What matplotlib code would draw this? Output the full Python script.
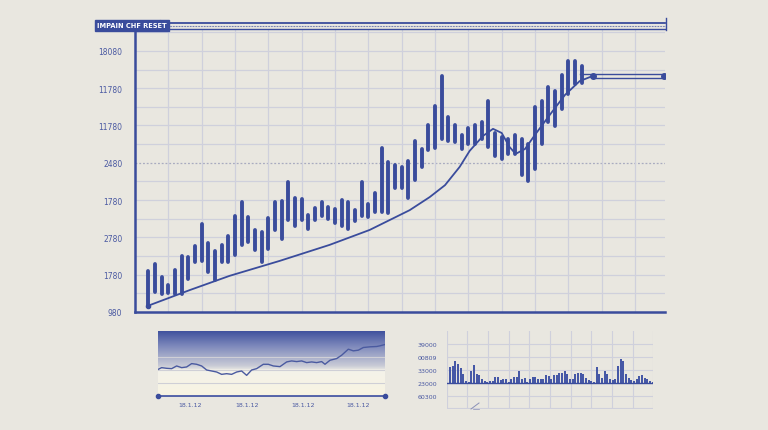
import numpy as np
import matplotlib
matplotlib.use("Agg")
import matplotlib.pyplot as plt
from matplotlib.lines import Line2D

# ---- data ----
bar_low = [0.17, 0.54, 0.48, 0.51, 0.48, 0.48, 0.88, 1.34, 1.38, 1.07,
           0.86, 1.34, 1.34, 1.53, 1.80, 1.88, 1.67, 1.35, 1.69, 2.21,
           1.96, 2.47, 2.31, 2.47, 2.23, 2.47, 2.57, 2.49, 2.39, 2.30,
           2.23, 2.45, 2.58, 2.54, 2.67, 2.69, 2.65, 3.32, 3.32, 3.05,
           3.55, 3.88, 4.35, 4.39, 4.64, 4.59, 4.55, 4.37, 4.50, 4.50,
           4.64, 4.42, 4.19, 4.10, 4.24, 4.24, 3.67, 3.52, 3.83, 4.50,
           5.09, 4.99, 5.44, 5.84, 6.11, 6.14]
bar_high = [1.11, 1.29, 0.95, 0.72, 1.13, 1.51, 1.47, 1.78, 2.36, 1.85,
            1.64, 1.80, 2.04, 2.58, 2.95, 2.55, 2.20, 2.14, 2.52, 2.96,
            2.98, 3.49, 3.05, 3.03, 2.60, 2.80, 2.96, 2.81, 2.76, 3.01,
            2.96, 2.74, 3.49, 2.90, 3.19, 4.39, 4.01, 3.94, 3.88, 4.05,
            4.59, 4.37, 5.01, 5.53, 6.34, 5.22, 5.01, 4.75, 4.92, 5.01,
            5.10, 5.66, 4.80, 4.68, 4.64, 4.75, 4.64, 4.50, 5.49, 5.66,
            6.02, 5.93, 6.35, 6.74, 6.74, 6.60]

trend_x = [0, 6.25, 12.2, 19.7, 27.2, 33.2, 39.2, 42.2, 44.5, 46.7, 48.2,
           50.2, 51.7, 53.0, 54.2, 55.1, 56.5, 58.0, 60.2, 62.5, 64.7, 66.7]
trend_y = [0.17, 0.59, 0.97, 1.37, 1.80, 2.20, 2.73, 3.08, 3.40, 3.89, 4.32,
           4.72, 4.91, 4.80, 4.42, 4.24, 4.37, 4.75, 5.28, 5.82, 6.19, 6.33]
flat_hi = 6.38
flat_lo = 6.27

y_labels = ['980', '1780', '2780', '1780', '2480', '11780', '11780', '18080']
title = 'IMPAIN CHF RESET'

# small line inset
mini_y = [7.8, 8.3, 8.1, 8.0, 8.8, 8.3, 8.5, 9.5, 9.3, 8.8, 7.6, 7.3, 7.0,
          6.3, 6.5, 6.3, 7.0, 7.3, 6.0, 7.6, 8.0, 9.3, 9.3, 8.8, 8.6, 10.0,
          10.3, 10.1, 10.3, 9.8, 10.0, 9.8, 10.1, 9.3, 10.5, 11.0, 12.0, 13.8,
          13.3, 13.5, 14.3, 14.5, 14.6, 14.8, 15.2]
mini_x = [0, 1, 2.5, 4, 5.5, 7, 8.5, 10, 11.5, 13, 14.5, 16, 17.5, 19, 20.5,
          22, 23.5, 25, 26.5, 28, 29.5, 31.5, 33, 34.5, 36.5, 38.5, 40, 41.5,
          43, 44.5, 46, 47.5, 49, 50, 51.5, 53.5, 55, 57, 58.5, 60, 61.5,
          63.5, 65.5, 66.5, 68]
mini_labels = ['18.1.12', '18.1.12', '18.1.12', '18.1.12']

# small bar inset
vol = [1.26, 1.32, 1.66, 1.45, 1.18, 0.66, 0.13, 0.05, 0.92, 1.37, 0.71,
       0.60, 0.32, 0.13, 0.05, 0.13, 0.13, 0.47, 0.47, 0.21, 0.26, 0.26,
       0.05, 0.26, 0.47, 0.47, 0.92, 0.32, 0.37, 0.05, 0.26, 0.47, 0.42,
       0.26, 0.26, 0.26, 0.63, 0.53, 0.26, 0.63, 0.58, 0.74, 0.79, 0.92,
       0.68, 0.26, 0.32, 0.66, 0.79, 0.76, 0.68, 0.40, 0.21, 0.13, 0.05,
       1.24, 0.66, 0.40, 0.92, 0.66, 0.26, 0.20, 0.30, 1.32, 1.84, 1.66,
       0.71, 0.40, 0.20, 0.13, 0.26, 0.55, 0.58, 0.40, 0.26, 0.13, 0.05]
vol_labels = ['60300', '23000', '33000', '00809', '39000']

BG = '#e9e7e0'
BLUE = '#3a4c9c'
TXT = '#4b5aa2'
GRID = '#cfd0dc'

fig = plt.figure(figsize=(7.68, 4.31), dpi=100)
fig.patch.set_facecolor(BG)
W, H = 768, 431


def px_ax(x0, y0, x1, y1):
    return fig.add_axes([x0 / W, 1 - y1 / H, (x1 - x0) / W, (y1 - y0) / H])


def px_line(xs, ys, **kw):
    fig.add_artist(Line2D([x / W for x in xs], [1 - y / H for y in ys], **kw))


# ---- main chart ----
ax = px_ax(135, 29.5, 665, 313)
ax.set_facecolor(BG)
ax.set_xlim(-2, 77.5)
ax.set_ylim(0, 7.6)
for v in np.arange(0.5, 7.6, 0.5):
    if v == 4:
        ax.axhline(v, color='#a9abc0', lw=0.9, ls=(0, (1.5, 1.5)), zorder=1)
    else:
        ax.axhline(v, color=GRID, lw=0.9, zorder=1)
for xv in np.arange(3, 77, 5):
    ax.axvline(xv, color=GRID, lw=0.9, zorder=1)

xs = np.arange(len(bar_low))
ax.vlines(xs, bar_low, bar_high, color=BLUE, lw=2.8, capstyle='round', zorder=3)
ax.plot(trend_x, trend_y, color=BLUE, lw=1.3, zorder=4)
ax.plot([64.7, 77.4], [flat_hi, flat_hi], color=BLUE, lw=1.0, zorder=4)
ax.plot([66.7, 77.4], [flat_lo, flat_lo], color=BLUE, lw=1.0, zorder=4)
ax.plot([66.7, 77.4], [trend_y[-1], trend_y[-1]], 'o', color=BLUE, ms=4, zorder=5)
ax.plot([trend_x[0]], [trend_y[0]], 'o', color=BLUE, ms=3, zorder=5)

ax.set_yticks(range(8))
ax.set_yticklabels(y_labels)
ax.set_xticks([])
ax.tick_params(axis='y', length=0, pad=9, labelsize=5.5, labelcolor=TXT)
for s in ['top', 'right']:
    ax.spines[s].set_visible(False)
for s in ['left', 'bottom']:
    ax.spines[s].set_color(BLUE)
    ax.spines[s].set_linewidth(1.8)

# title box and top stripe
fig.text(97 / W, 1 - 26.5 / H, title, fontsize=4.8, color='white',
         fontweight='bold', va='center', ha='left',
         bbox=dict(boxstyle='square,pad=0.35', fc=BLUE, ec=BLUE))
px_line([160, 665], [24, 24], color=BLUE, lw=1.3)
px_line([160, 665], [30, 30], color=BLUE, lw=1.0)
px_line([160, 665], [27, 27], color=BLUE, lw=0.8, ls=(0, (0.6, 0.8)))
px_line([666, 666], [19, 31], color=BLUE, lw=1.0)
px_line([160, 160], [21, 31], color=BLUE, lw=0.8)

# ---- left inset (line with gradient) ----
ai = px_ax(158.3, 331.7, 385, 396.5)
ai.set_xlim(0, 68)
ai.set_ylim(0, 19.3)
stops = [0.0, 0.25, 0.55, 0.6, 0.61, 1.0]
cols = np.array([[0x3c, 0x4e, 0x9c], [0x7f, 0x8a, 0xbc], [0xc9, 0xcb, 0xd6],
                 [0xe2, 0xe1, 0xe0], [0xf4, 0xf2, 0xea], [0xf8, 0xf4, 0xe2]]) / 255
tt = np.linspace(0, 1, 200)
grad = np.stack([np.interp(tt, stops, cols[:, k]) for k in range(3)], axis=-1)[:, None, :]
ai.imshow(grad, extent=[0, 68, 0, 19.3], aspect='auto', zorder=0)
for v in [3.8, 7.6, 11.6]:
    ai.axhline(v, color='#cfcfd6', lw=0.8, zorder=1)
ai.plot(mini_x, mini_y, color='#4a5aa0', lw=1.0, zorder=3)
ai.set_xticks([9.5, 26.5, 43.3, 60])
ai.set_xticklabels(mini_labels)
ai.set_yticks([])
ai.tick_params(axis='x', length=0, pad=5, labelsize=4.5, labelcolor=TXT)
for s in ['top', 'right', 'left']:
    ai.spines[s].set_visible(False)
ai.spines['bottom'].set_color(BLUE)
ai.spines['bottom'].set_linewidth(1.2)
ai.plot([0, 68], [0, 0], 'o', color=BLUE, ms=3, clip_on=False, zorder=5)

# ---- right inset (bars) ----
ab = px_ax(446.7, 331.7, 653.3, 410)
ab.set_facecolor(BG)
ab.set_xlim(-1.24, 76.2)
ab.set_ylim(-2.05, 4.05)
for xv in np.linspace(-1.24, 76.2, 11):
    ab.axvline(xv, color=GRID, lw=0.8, zorder=1)
for v in [-2, -1, 1, 2, 3]:
    ab.axhline(v, color=GRID, lw=0.8, zorder=1)
ab.bar(np.arange(len(vol)), vol, width=0.75, color='#4658a6', zorder=3)
ab.axhline(0, color=BLUE, lw=1.0, zorder=4)
ab.set_yticks([-1, 0, 1, 2, 3])
ab.set_yticklabels(vol_labels)
ab.set_xticks([])
ab.tick_params(axis='y', length=0, pad=7, labelsize=4.5, labelcolor=TXT)
for s in ab.spines.values():
    s.set_visible(False)
# small scribble under the bar inset
px_line([471, 479], [410, 404], color='#8a90b8', lw=0.7)
px_line([473, 479], [410, 410], color='#8a90b8', lw=0.5)

fig.savefig('out.png', dpi=100, facecolor=BG)
